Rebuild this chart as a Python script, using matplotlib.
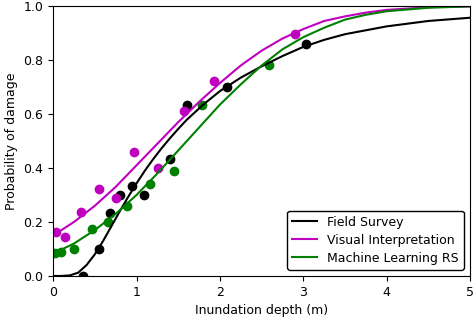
import matplotlib
matplotlib.use('Agg')
import matplotlib.pyplot as plt

# observed points
field_x = [0.36, 0.55, 0.68, 0.80, 0.94, 1.09, 1.40, 1.61, 2.08, 3.03]
field_y = [0.0, 0.10, 0.234, 0.30, 0.334, 0.30, 0.433, 0.634, 0.70, 0.858]

visual_x = [0.03, 0.14, 0.33, 0.55, 0.76, 0.97, 1.26, 1.57, 1.93, 2.90]
visual_y = [0.163, 0.143, 0.238, 0.322, 0.29, 0.459, 0.40, 0.611, 0.723, 0.895]

ml_x = [0.02, 0.10, 0.25, 0.47, 0.66, 0.89, 1.16, 1.45, 1.79, 2.59]
ml_y = [0.084, 0.09, 0.099, 0.174, 0.201, 0.258, 0.342, 0.388, 0.632, 0.781]

# fitted curves
field_cx = [0.0, 0.1, 0.2, 0.3, 0.4, 0.5, 0.6, 0.7, 0.8, 0.9, 1.0, 1.1, 1.2, 1.3,
            1.4, 1.5, 1.6, 1.8, 2.0, 2.25, 2.5, 2.75, 3.0, 3.25, 3.5, 4.0, 4.5, 5.0]
field_cy = [0.0, 0.0, 0.002, 0.012, 0.04, 0.08, 0.13, 0.185, 0.24, 0.293, 0.343,
            0.39, 0.433, 0.473, 0.51, 0.545, 0.578, 0.635, 0.685, 0.735, 0.777,
            0.815, 0.849, 0.875, 0.896, 0.925, 0.945, 0.957]

visual_cx = [0.0, 0.25, 0.5, 0.75, 1.0, 1.25, 1.5, 1.75, 2.0, 2.25, 2.5, 2.75,
             3.0, 3.25, 3.5, 3.75, 4.0, 4.5, 5.0]
visual_cy = [0.15, 0.20, 0.26, 0.33, 0.41, 0.49, 0.57, 0.645, 0.715, 0.78, 0.835,
             0.88, 0.915, 0.945, 0.962, 0.976, 0.986, 0.996, 0.999]

ml_cx = [0.0, 0.25, 0.5, 0.75, 1.0, 1.25, 1.5, 1.75, 2.0, 2.25, 2.5, 2.75, 3.0,
         3.25, 3.5, 3.75, 4.0, 4.5, 5.0]
ml_cy = [0.083, 0.12, 0.17, 0.23, 0.30, 0.38, 0.465, 0.55, 0.635, 0.71, 0.78,
         0.84, 0.885, 0.92, 0.95, 0.968, 0.981, 0.994, 0.999]

fig = plt.figure(figsize=(4.74, 3.22), dpi=100)
ax = fig.add_axes([0.112, 0.143, 0.88, 0.838])

ax.scatter(field_x, field_y, s=36, color='k')
ax.scatter(visual_x, visual_y, s=36, color='m')
ax.scatter(ml_x, ml_y, s=36, color='g')

ax.plot(field_cx, field_cy, color='k', lw=1.5, label='Field Survey')
ax.plot(visual_cx, visual_cy, color='m', lw=1.5, label='Visual Interpretation')
ax.plot(ml_cx, ml_cy, color='g', lw=1.5, label='Machine Learning RS')

ax.set_xlim(0, 5)
ax.set_ylim(0, 1)
ax.set_xticks([0, 1, 2, 3, 4, 5])
ax.set_yticks([0.0, 0.2, 0.4, 0.6, 0.8, 1.0])
ax.set_xlabel('Inundation depth (m)', fontsize=9)
ax.set_ylabel('Probability of damage', fontsize=9)
ax.tick_params(labelsize=9)

leg = ax.legend(loc='lower right', fontsize=9, framealpha=1,
                labelspacing=0.4)
leg.get_frame().set_edgecolor('k')

fig.savefig('out.png', dpi=100)
